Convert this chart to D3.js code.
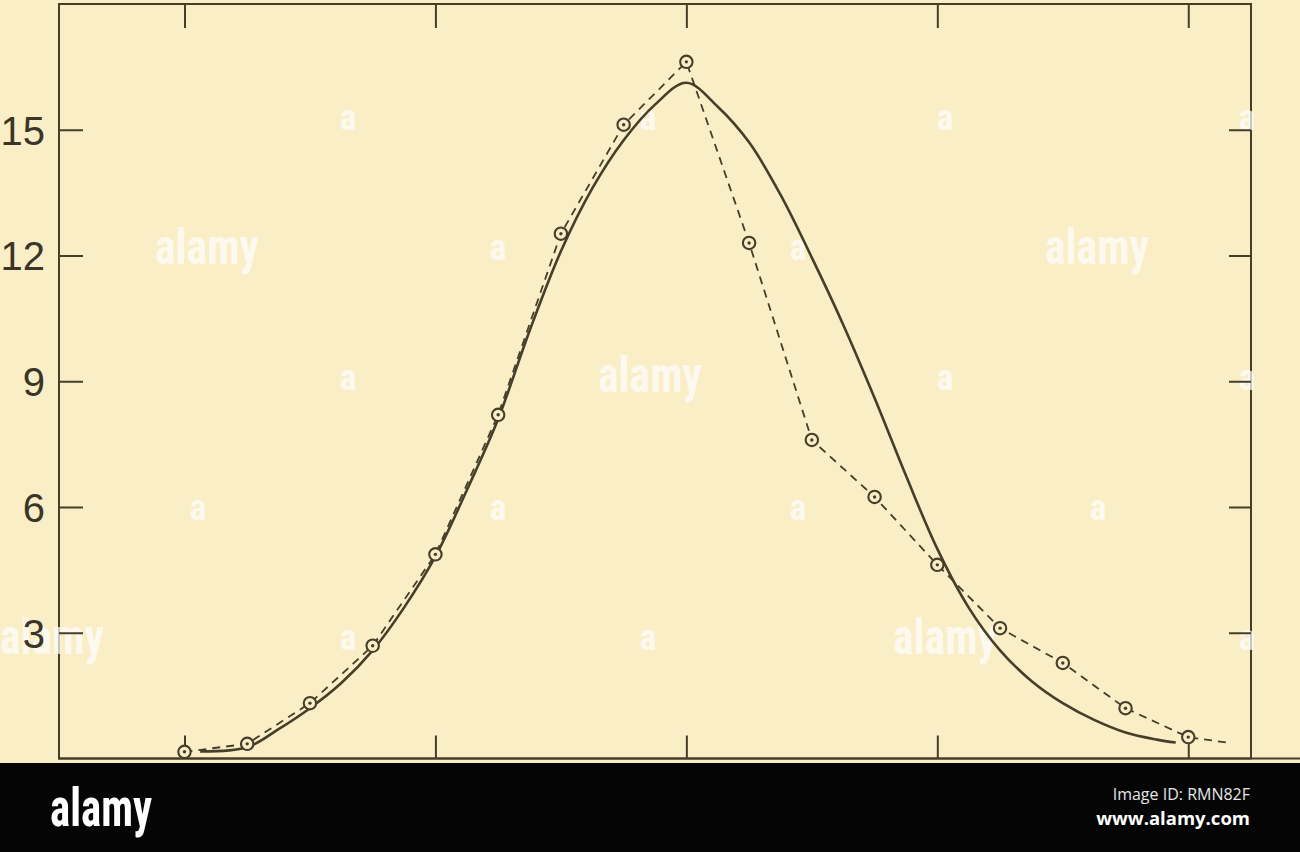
<!DOCTYPE html>
<html>
<head>
<meta charset="utf-8">
<script src="https://cdn.jsdelivr.net/npm/d3@7"></script>
<style>
  html, body { margin: 0; padding: 0; background: #f9eec6; }
  svg { display: block; }
</style>
</head>
<body>
<svg id="chart" width="1300" height="852"></svg>
<script>
// ---- data ----
const obsIndex = [0, 1, 2, 3, 4, 5, 6, 7, 8, 9, 10, 11, 12, 13, 14, 15, 16];
const observed = [0.16, 0.35, 1.32, 2.69, 4.87, 8.2, 12.52, 15.12, 16.62, 12.3, 7.6, 6.24, 4.62, 3.11, 2.28, 1.2, 0.51];
const tailIndex = [16.66];
const tailValue = [0.37];
const fitIndex = [0.25, 1, 1.5, 2, 2.5, 3, 3.5, 4, 4.5, 5, 5.5, 6, 6.5, 7, 7.5, 8, 8.5, 9, 9.5, 10, 10.5, 11, 11.5, 12, 12.5, 13, 13.5, 14, 14.5, 15, 15.5, 15.8];
const fitted   = [0.17, 0.27, 0.7, 1.2, 1.8, 2.58, 3.6, 4.82, 6.4, 8.1, 10.2, 12.1, 13.6, 14.75, 15.6, 16.12, 15.55, 14.7, 13.45, 11.95, 10.35, 8.6, 6.75, 5.0, 3.6, 2.58, 1.85, 1.32, 0.92, 0.62, 0.45, 0.38];
const yTicks = [3, 6, 9, 12, 15];
const xTicks = [0, 4, 8, 12, 16];
const wmRowsOdd = [118, 378, 638];
const wmRowsEven = [248, 508];
const wmColsOdd = [348, 648, 945, 1247];
const wmColsEven = [198, 498, 798, 1098];
const wmFull = [[207, 250], [650, 378], [1097, 250], [52, 640], [945, 640]];

const ink = "#453e29";
const bg = "#f9eec6";
const svg = d3.select("#chart");

svg.append("rect").attr("x", 0).attr("y", 0).attr("width", 1300).attr("height", 852).attr("fill", bg);

const x = d3.scaleLinear().domain([-2, 17]).range([59, 1251]);
const y = d3.scaleLinear().domain([0, 18]).range([758.5, 4]);

// frame
svg.append("rect")
  .attr("x", x(-2)).attr("y", y(18))
  .attr("width", x(17) - x(-2)).attr("height", y(0) - y(18))
  .attr("fill", "none").attr("stroke", ink).attr("stroke-width", 2);
svg.append("line")
  .attr("x1", x(-2) - 1).attr("x2", 1300).attr("y1", y(0)).attr("y2", y(0))
  .attr("stroke", ink).attr("stroke-width", 2);

function styleAxis(g) {
  g.select(".domain").remove();
  g.selectAll(".tick line").attr("stroke", ink).attr("stroke-width", 2);
}

// watermarks (drawn beneath the ink)
const wm = svg.append("g").attr("fill", "#ffffff").attr("opacity", 0.7)
  .attr("font-family", "Liberation Sans Narrow, Roboto Condensed, Arial Narrow, sans-serif")
  .attr("font-weight", "bold").attr("text-anchor", "middle");
const singles = [];
wmRowsOdd.forEach(r => wmColsOdd.forEach(c => singles.push([c, r])));
wmRowsEven.forEach(r => wmColsEven.forEach(c => singles.push([c, r])));
const isFull = p => wmFull.some(f => Math.abs(f[0] - p[0]) < 80 && Math.abs(f[1] - p[1]) < 40);
wm.selectAll("text.s").data(singles.filter(p => !isFull(p))).join("text")
  .attr("class", "s").attr("x", d => d[0]).attr("y", d => d[1] + 12)
  .attr("font-size", 36).text("a");
wm.selectAll("text.f").data(wmFull).join("text")
  .attr("class", "f").attr("x", d => d[0]).attr("y", d => d[1] + 14)
  .attr("font-size", 50).attr("textLength", 104).attr("lengthAdjust", "spacingAndGlyphs").text("alamy");

svg.append("g").attr("transform", `translate(${x(-2)},0)`)
  .call(d3.axisLeft(y).tickValues(yTicks).tickSizeInner(-24).tickSizeOuter(0).tickPadding(14).tickFormat(d3.format("d")))
  .call(styleAxis)
  .call(g => g.selectAll(".tick text")
    .attr("fill", "#3a3526").attr("font-family", "Liberation Sans, Arial, Helvetica, sans-serif")
    .attr("font-size", 40).attr("dy", "0.36em"));

svg.append("g").attr("transform", `translate(${x(17)},0)`)
  .call(d3.axisRight(y).tickValues(yTicks).tickSizeInner(-22).tickSizeOuter(0).tickFormat(""))
  .call(styleAxis);

svg.append("g").attr("transform", `translate(0,${y(18)})`)
  .call(d3.axisTop(x).tickValues(xTicks).tickSizeInner(-24).tickSizeOuter(0).tickFormat(""))
  .call(styleAxis);

svg.append("g").attr("transform", `translate(0,${y(0)})`)
  .call(d3.axisBottom(x).tickValues(xTicks).tickSizeInner(-23).tickSizeOuter(0).tickFormat(""))
  .call(styleAxis);

// fitted smooth curve
const fitData = fitIndex.map((d, i) => [d, fitted[i]]);
svg.append("path")
  .datum(fitData)
  .attr("fill", "none").attr("stroke", ink).attr("stroke-width", 2.6)
  .attr("d", d3.line().x(d => x(d[0])).y(d => y(d[1])).curve(d3.curveCatmullRom.alpha(0.5)));

// observed dashed polyline
const obsData = obsIndex.map((d, i) => [d, observed[i]]);
const dashData = obsData.concat(tailIndex.map((d, i) => [d, tailValue[i]]));
svg.append("path")
  .datum(dashData)
  .attr("fill", "none").attr("stroke", ink).attr("stroke-width", 1.8)
  .attr("stroke-dasharray", "8,6")
  .attr("d", d3.line().x(d => x(d[0])).y(d => y(d[1])));

// circled dot markers
const pts = svg.append("g");
pts.selectAll("circle.o").data(obsData).join("circle")
  .attr("class", "o")
  .attr("cx", d => x(d[0])).attr("cy", d => y(d[1])).attr("r", 6.2)
  .attr("fill", bg).attr("stroke", ink).attr("stroke-width", 2.1);
pts.selectAll("circle.c").data(obsData).join("circle")
  .attr("class", "c")
  .attr("cx", d => x(d[0])).attr("cy", d => y(d[1])).attr("r", 1.7)
  .attr("fill", ink);

// bottom banner
svg.append("rect").attr("x", 0).attr("y", 763).attr("width", 1300).attr("height", 89).attr("fill", "#050505");
svg.append("text").attr("x", 50).attr("y", 826)
  .attr("fill", "#ffffff").attr("font-family", "Liberation Sans Narrow, Roboto Condensed, Arial Narrow, sans-serif")
  .attr("font-weight", "bold").attr("font-size", 54)
  .attr("textLength", 102).attr("lengthAdjust", "spacingAndGlyphs").text("alamy");
svg.append("text").attr("x", 1250).attr("y", 800).attr("text-anchor", "end")
  .attr("fill", "#e6e6e6").attr("font-family", "Open Sans, Noto Sans, sans-serif")
  .attr("font-size", 16).text("Image ID: RMN82F");
svg.append("text").attr("x", 1250).attr("y", 825).attr("text-anchor", "end")
  .attr("fill", "#ffffff").attr("font-family", "Open Sans, Noto Sans, sans-serif")
  .attr("font-weight", "bold").attr("font-size", 18.5).text("www.alamy.com");
</script>
</body>
</html>
